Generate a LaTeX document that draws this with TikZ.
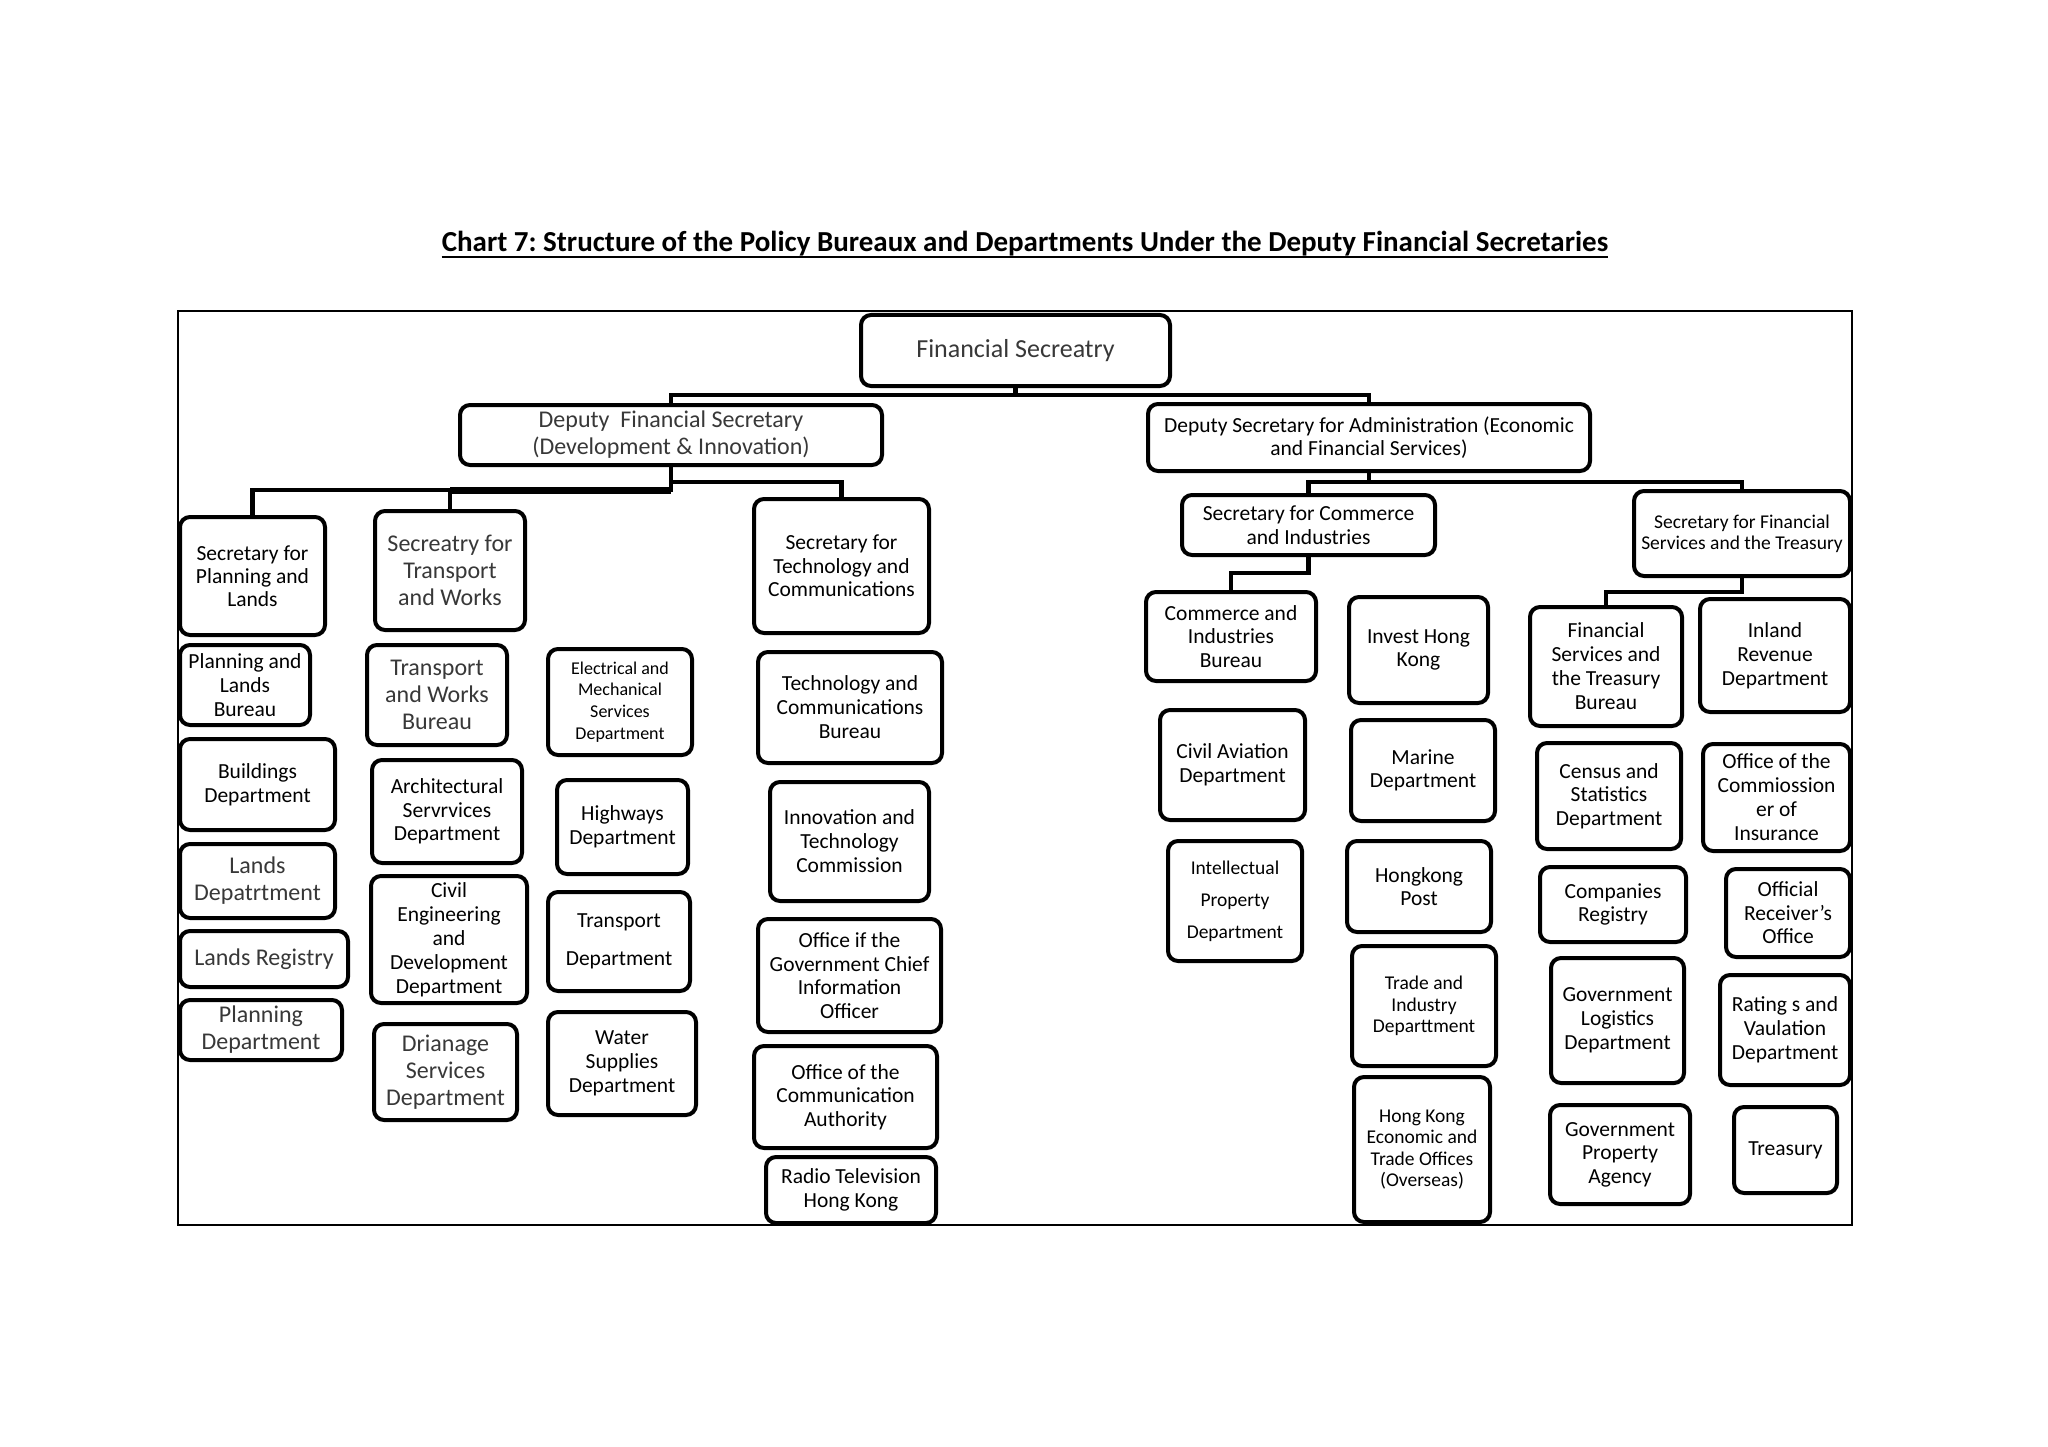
\documentclass[tikz,border=0pt]{standalone}
\usepackage{fontspec}
\setmainfont{Carlito}
\frenchspacing
\begin{document}
\begin{tikzpicture}[x=1pt,y=-1pt,
  box/.style={draw, fill=white, line width=4pt, rounded corners=10pt, align=center, inner sep=0pt,
    font=\fontsize{21.5}{23.6}\selectfont},
  lite/.style={text=black!78, font=\fontsize{24}{27}\selectfont},
  small/.style={font=\fontsize{19.5}{21.5}\selectfont},
  conn/.style={line width=4.5pt, line cap=rect}]
\useasboundingbox (0,0) rectangle (2048,1447);
\fill[white] (0,0) rectangle (2048,1447);
% title
\node[font=\fontsize{29}{32}\selectfont\bfseries, anchor=base, inner sep=0pt] (title) at (1025,252)
  {Chart 7: Structure of the Policy Bureaux and Departments Under the Deputy Financial Secretaries};
\draw[line width=2pt] ([yshift=-5pt]title.base west) -- ([yshift=-5pt]title.base east);
% frame
\draw[line width=2pt] (178,311) rectangle (1852,1225);
% top level
\node[box,lite,font=\fontsize{26}{28}\selectfont,minimum width=309,minimum height=71] (fs) at (1015.5,350.5) {Financial Secreatry};
\node[box,lite,minimum width=422,minimum height=60] (dev) at (671,435) {Deputy~~Financial Secretary\\(Development \& Innovation)};
\node[box,font=\fontsize{21.5}{23}\selectfont,minimum width=442,minimum height=67] (dsa) at (1369,437.5) {Deputy Secretary for Administration (Economic\\and Financial Services)};
% development column
\node[box,font=\fontsize{21.5}{23}\selectfont,minimum width=145,minimum height=118] (spl) at (252.5,576) {Secretary for\\Planning and\\Lands};
\node[box,lite,minimum width=150,minimum height=119] (stw) at (450,570.5) {Secreatry for\\Transport\\and Works};
\node[box,minimum width=175,minimum height=134] (stc) at (841.5,566) {Secretary for\\Technology and\\Communications};
\node[box,font=\fontsize{21.5}{24}\selectfont,minimum width=130,minimum height=80] (plb) at (245,685) {Planning and\\Lands\\Bureau};
\node[box,lite,minimum width=140,minimum height=100] (twb) at (437,695) {Transport\\and Works\\Bureau};
\node[box,font=\fontsize{18}{21.7}\selectfont,minimum width=144,minimum height=106] (emsd) at (620,702) {Electrical and\\Mechanical\\Services\\Department};
\node[box,font=\fontsize{21.5}{24}\selectfont,minimum width=184,minimum height=111] (tcb) at (850,707.5) {Technology and\\Communications\\Bureau};
\node[box,minimum width=155,minimum height=91] (bd) at (257.5,784.5) {Buildings\\Department};
\node[box,minimum width=150,minimum height=103] (asd) at (447,811.5) {Architectural\\Servrvices\\Department};
\node[box,minimum width=131,minimum height=94] (hyd) at (622.5,827) {Highways\\Department};
\node[box,font=\fontsize{21.5}{24}\selectfont,minimum width=159,minimum height=119] (itc) at (849.5,841.5) {Innovation and\\Technology\\Commission};
\node[box,lite,minimum width=155,minimum height=74] (landsd) at (257.5,881) {Lands\\Depatrtment};
\node[box,font=\fontsize{21.5}{24}\selectfont,minimum width=156,minimum height=127] (cedd) at (449,939.5) {Civil\\Engineering\\and\\Development\\Department};
\node[box,minimum width=142,minimum height=99] (td) at (619,941.5) {Transport\\[14.5pt]Department};
\node[box,minimum width=183,minimum height=113] (ogcio) at (849.5,975.5) {Office if the\\Government Chief\\Information\\Officer};
\node[box,lite,minimum width=168,minimum height=56] (lr) at (264,959) {Lands Registry};
\node[box,lite,minimum width=162,minimum height=60] (pd) at (261,1030) {Planning\\Department};
\node[box,lite,minimum width=143,minimum height=96] (dsd) at (445.5,1072) {Drianage\\Services\\Department};
\node[box,font=\fontsize{21.5}{23.8}\selectfont,minimum width=148,minimum height=103] (wsd) at (622,1063.5) {Water\\Supplies\\Department};
\node[box,minimum width=183,minimum height=102] (ofca) at (845.5,1097) {Office of the\\Communication\\Authority};
\node[box,minimum width=170,minimum height=66] (rthk) at (851,1190) {Radio Television\\Hong Kong};
% economic and financial column
\node[box,minimum width=253,minimum height=60] (sci) at (1308.5,525) {Secretary for Commerce\\and Industries};
\node[box,small,font=\fontsize{19.5}{21}\selectfont,minimum width=216,minimum height=85] (sfst) at (1742,533.5) {Secretary for Financial\\Services and the Treasury};
\node[box,minimum width=170,minimum height=89] (cib) at (1231,636.5) {Commerce and\\Industries\\Bureau};
\node[box,minimum width=139,minimum height=106] (invest) at (1418.5,650) {Invest Hong\\Kong};
\node[box,minimum width=145,minimum height=110] (cad) at (1232.5,765) {Civil Aviation\\Department};
\node[box,minimum width=144,minimum height=101] (mard) at (1423,770.5) {Marine\\Department};
\node[box,font=\fontsize{19.5}{32}\selectfont,minimum width=134,minimum height=120] (ipd) at (1235,901) {Intellectual\\Property\\Department};
\node[box,minimum width=144,minimum height=91] (post) at (1419,886.5) {Hongkong\\Post};
\node[box,font=\fontsize{19.5}{21.7}\selectfont,minimum width=144,minimum height=120] (tid) at (1424,1006) {Trade and\\Industry\\Departtment};
\node[box,font=\fontsize{19.5}{21.3}\selectfont,minimum width=136,minimum height=145] (heto) at (1422,1149.5) {Hong Kong\\Economic and\\Trade Offices\\(Overseas)};
\node[box,font=\fontsize{21.5}{24}\selectfont,minimum width=152,minimum height=119] (fstb) at (1606,666.5) {Financial\\Services and\\the Treasury\\Bureau};
\node[box,font=\fontsize{21.5}{24}\selectfont,minimum width=150,minimum height=113] (ird) at (1775,655.5) {Inland\\Revenue\\Department};
\node[box,minimum width=144,minimum height=106] (csd) at (1609,796) {Census and\\Statistics\\Department};
\node[box,font=\fontsize{21.5}{24}\selectfont,minimum width=147,minimum height=107] (oci) at (1776.5,797.5) {Office of the\\Commiossion\\er of\\Insurance};
\node[box,minimum width=146,minimum height=75] (cr) at (1613,904.5) {Companies\\Registry};
\node[box,minimum width=124,minimum height=88] (oro) at (1788,913) {Official\\Receiver's\\Office};
\node[box,font=\fontsize{21.5}{24}\selectfont,minimum width=133,minimum height=125] (gld) at (1617.5,1020.5) {Government\\Logistics\\Department};
\node[box,font=\fontsize{21.5}{24}\selectfont,minimum width=130,minimum height=110] (rvd) at (1785,1030) {Rating s and\\Vaulation\\Department};
\node[box,minimum width=140,minimum height=99] (gpa) at (1620,1154.5) {Government\\Property\\Agency};
\node[box,minimum width=103,minimum height=86] (treas) at (1785.5,1150) {Treasury};
% connectors
\coordinate (j0) at (1018,395);
\draw[conn] (fs.south) -- (fs.south |- j0);
\draw[conn] (dev.north) |- (j0) -| (dsa.north);
\coordinate (j1) at (671,490);
\draw[conn] (dev.south) -- (dev.south |- j1);
\draw[conn] (spl.north) |- (j1);
\draw[conn] (stw.north) -- (stw.north |- j1);
\draw[line width=7pt] (stw.north |- j1) -- (j1);
\coordinate (j2) at (842,482);
\draw[conn] (dev.south |- j2) -| (stc.north);
\coordinate (j3) at (1369,482);
\draw[conn] (dsa.south) -- (dsa.south |- j3);
\draw[conn] (sci.north) |- (j3) -| (sfst.north);
\coordinate (j4) at (1308,573);
\draw[conn] (sci.south) |- (cib.north |- j4) -- (cib.north);
\coordinate (j5) at (1742,592);
\draw[conn] (sfst.south) |- (fstb.north |- j5) -- (fstb.north);
\end{tikzpicture}
\end{document}
